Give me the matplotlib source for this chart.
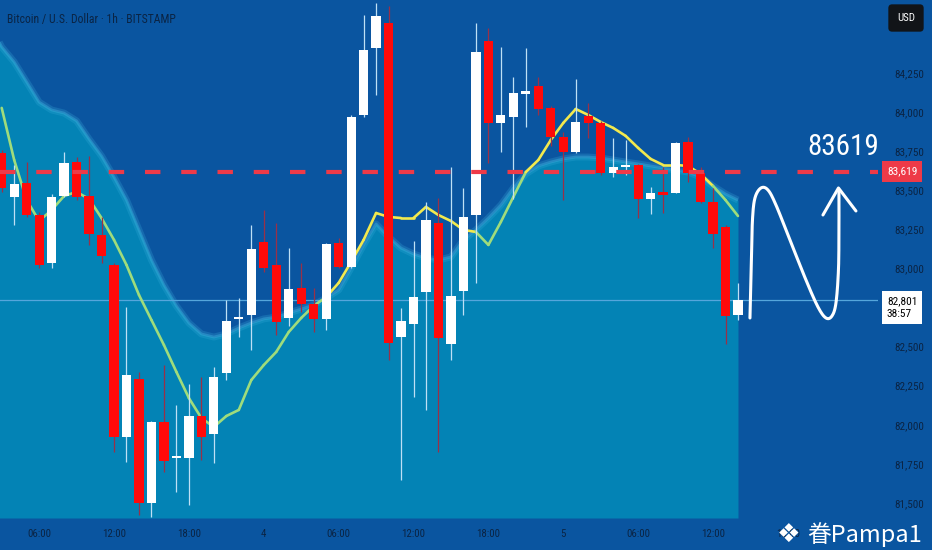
import matplotlib
matplotlib.use('Agg')
import numpy as np
import matplotlib.pyplot as plt
from matplotlib import font_manager
from matplotlib.collections import LineCollection

# hourly candles, hour 0 = day 3 00:00
hours = np.arange(3, 63)
opens = [83736, 83455, 83544, 83341, 83036, 83463, 83682, 83465, 83214, 83022,
         81920, 82291, 81498, 82016, 81790, 81790, 82056, 81941, 82333, 82676,
         82702, 83171, 83022, 82685, 82873, 82772, 82675, 83160, 83011, 83978,
         84407, 84571, 82563, 82645, 82851, 83292, 82515, 82856, 83341, 84456,
         83932, 83965, 84113, 84166, 84023, 83842, 83746, 83975, 83932, 83608,
         83646, 83661, 83442, 83490, 83484, 83810, 83608, 83427, 83262, 82702]
highs = [83760, 83661, 83682, 83360, 83476, 83746, 83714, 83719, 83330, 83033,
         82755, 82340, 82025, 82382, 82127, 82261, 82308, 82372, 82798, 82811,
         83278, 83373, 83288, 83128, 83033, 82873, 83160, 83192, 83980, 84620,
         84695, 84676, 82745, 83177, 83427, 83448, 83650, 83512, 84571, 84535,
         84418, 84221, 84407, 84226, 84040, 83870, 84209, 84055, 83940, 83831,
         83820, 83670, 83522, 83650, 83805, 83842, 83650, 83512, 83278, 82905]
lows = [83490, 83278, 83330, 83003, 83005, 83455, 83437, 83150, 83033, 81828,
        81764, 81423, 81412, 81700, 81572, 81487, 81775, 81758, 82286, 82561,
        82478, 82980, 82574, 82633, 82723, 82596, 82606, 83000, 83000, 83965,
        84109, 82414, 81647, 82176, 82095, 81828, 82414, 82702, 82905, 83672,
        83746, 83442, 83903, 83981, 83781, 83437, 83740, 83831, 83597, 83586,
        83597, 83320, 83348, 83352, 83480, 83554, 83415, 83128, 82517, 82670]
closes = [83512, 83540, 83341, 83022, 83459, 83676, 83459, 83218, 83081, 81920,
          82318, 81498, 82020, 81770, 81796, 82056, 81920, 82304, 82666, 82686,
          83122, 83001, 82659, 82866, 82772, 82675, 83156, 83011, 83970, 84397,
          84614, 82525, 82666, 82819, 83310, 82553, 82824, 83327, 84382, 83932,
          83981, 84124, 84136, 84017, 83838, 83746, 83938, 83932, 83612, 83646,
          83659, 83442, 83484, 83469, 83799, 83608, 83423, 83220, 82696, 82801]

# upper edge of the shaded area and the moving average line
band = [84416, 84320, 84192, 84063, 84013, 83993, 83943, 83827, 83719, 83584,
        83437, 83246, 83054, 82894, 82760, 82651, 82581, 82561, 82581, 82619,
        82651, 82677, 82689, 82715, 82740, 82766, 82811, 82862, 83003, 83150,
        83284, 83201, 83130, 83092, 83066, 83054, 83073, 83182, 83246, 83322,
        83405, 83514, 83604, 83655, 83680, 83700, 83712, 83712, 83706, 83693,
        83680, 83668, 83655, 83642, 83629, 83616, 83584, 83527, 83476, 83437]
ma = [84026, 83693, 83437, 83303, 83373, 83463, 83489, 83444, 83322, 83182,
      83022, 82830, 82670, 82510, 82338, 82171, 82043, 81986, 82056, 82095,
      82286, 82382, 82466, 82593, 82683, 82760, 82817, 82907, 83041, 83182,
      83354, 83329, 83322, 83322, 83393, 83341, 83303, 83246, 83233, 83150,
      83297, 83457, 83616, 83693, 83821, 83930, 84019, 83981, 83936, 83898,
      83847, 83770, 83700, 83661, 83661, 83655, 83604, 83527, 83437, 83335]

target = 83619
last_price = 82801
countdown = "38:57"
yticks = [81500, 81750, 82000, 82250, 82500, 83000, 83250, 83500, 83750, 84000, 84250]
xticks = [6, 12, 18, 24, 30, 36, 42, 48, 54, 60, 66]
xlabels = ["06:00", "12:00", "18:00", "4", "06:00", "12:00", "18:00", "5", "06:00", "12:00", "18:00"]
title = "Bitcoin / U.S. Dollar · 1h · BITSTAMP"

names = {f.name for f in font_manager.fontManager.ttflist}
NARROW = dict(family='DejaVu Sans', stretch='condensed')
for cand in ['Liberation Sans Narrow', 'Roboto Condensed', 'Open Sans Condensed', 'Noto Sans Condensed']:
    if cand in names:
        NARROW = dict(family=cand)
        break

BG = '#0a55a0'
FILL = '#0383b5'
EDGE = '#3aaedc'
TXT = '#0a2444'
RED = '#ff0a0a'

fig = plt.figure(figsize=(9.32, 5.5), dpi=100, facecolor=BG)
ax = fig.add_axes([0, 32 / 550, 878 / 932, 518 / 550])
ax.set_facecolor(BG)
ymin, ymax = 81404, 84716
ax.set_xlim(2.864, 73.22)
ax.set_ylim(ymin, ymax)
for s in ax.spines.values():
    s.set_visible(False)


def px2h(px):
    return 3 + (px - 1.7) / 12.48


def py2p(py):
    return 81500 + (503 - py) * 6.394


# shaded area
fx = np.concatenate([[2.8], hours])
fy = np.concatenate([[band[0] + 30], band])
ax.fill_between(fx, fy, ymin, color=FILL, zorder=1, lw=0)
ax.plot(fx, fy, color=EDGE, lw=5, alpha=0.25, zorder=1.2, solid_capstyle='butt')
ax.plot(fx, fy, color=EDGE, lw=2, alpha=0.45, zorder=1.3, solid_capstyle='butt')

# moving average, yellow above the band, green inside it
ma_a = np.array(ma, float)
band_a = np.array(band, float)
segs, cols = [], []
for i in range(len(hours) - 1):
    segs.append([(hours[i], ma_a[i]), (hours[i + 1], ma_a[i + 1])])
    above = (ma_a[i] + ma_a[i + 1]) / 2 > (band_a[i] + band_a[i + 1]) / 2
    cols.append('#f2e94e' if above else '#9fdc7c')
ax.add_collection(LineCollection(segs, colors=cols, linewidths=1.9, zorder=2.5, capstyle='round'))

# current price line
ax.axhline(last_price, color='#55a6dc', lw=0.9, zorder=1.5)

# candles
o = np.array(opens); c = np.array(closes)
up = c >= o
body_lo = np.minimum(o, c)
body_h = np.maximum(np.abs(c - o), 12)
ax.vlines(hours[up], np.array(lows)[up], np.array(highs)[up], color='#bfe0f5', lw=0.9, zorder=3)
ax.vlines(hours[~up], np.array(lows)[~up], np.array(highs)[~up], color='#9a3048', lw=0.9, zorder=3)
ax.bar(hours[up], body_h[up], bottom=body_lo[up], width=0.74, color='white', lw=0, zorder=4)
ax.bar(hours[~up], body_h[~up], bottom=body_lo[~up], width=0.74, color=RED, lw=0, zorder=4)

# target dashed line
ax.axhline(target, color='#ee3a48', lw=3, dashes=(3.7, 5.0), zorder=5)

# axes ticks
ax.yaxis.tick_right()
ax.set_yticks(yticks)
ax.set_yticklabels([f"{v:,}" for v in yticks], color=TXT, fontsize=8, **NARROW)
ax.tick_params(axis='y', length=0, pad=12)
ax.set_xticks(xticks)
ax.set_xticklabels(xlabels, color=TXT, fontsize=7.8, **NARROW)
ax.tick_params(axis='x', length=0, pad=8)

# price labels on the axis
ax.text(px2h(887), target, f"{target:,}", color='white', fontsize=8.2,
        ha='left', va='center', clip_on=False, zorder=10, **NARROW,
        bbox=dict(boxstyle='square,pad=0.45', fc='#ee3a48', ec='none'))
ax.text(px2h(887), py2p(307.5), f"{last_price:,}\n{countdown}", color='black', fontsize=8.2,
        ha='left', va='center', clip_on=False, zorder=10, linespacing=1.3, **NARROW,
        bbox=dict(boxstyle='square,pad=0.45', fc='white', ec='none'))

# title and USD box
fig.text(7 / 932, 1 - 19 / 550, title, color=TXT, fontsize=8.5, ha='left', va='center', **NARROW)
fig.text(906 / 932, 1 - 18 / 550, "USD", color='white', fontsize=7.8, ha='center', va='center', **NARROW,
         bbox=dict(boxstyle='round,pad=0.8,rounding_size=0.35', fc='#111418', ec='none'))

# big target number
ax.text(px2h(843), py2p(147), str(target), color='white', fontsize=21, ha='center', va='center',
        zorder=11, **NARROW)

# hand drawn wave with arrow
wave_px = [(750, 318), (751.5, 260), (752.5, 220), (755, 198), (761, 188), (768, 190), (776, 205),
           (790, 240), (806, 280), (818, 307), (826, 318), (832, 316), (836, 303), (838.5, 270),
           (839, 230), (839, 190)]
pts = np.array([(px2h(a), py2p(b)) for a, b in wave_px])
# catmull-rom smoothing of the stroke
P = np.vstack([pts[0], pts, pts[-1]])
sm = []
for i in range(1, len(P) - 2):
    p0, p1, p2, p3 = P[i - 1], P[i], P[i + 1], P[i + 2]
    for t in np.linspace(0, 1, 12, endpoint=False):
        t2, t3 = t * t, t * t * t
        sm.append(0.5 * ((2 * p1) + (-p0 + p2) * t + (2 * p0 - 5 * p1 + 4 * p2 - p3) * t2
                         + (-p0 + 3 * p1 - 3 * p2 + p3) * t3))
sm.append(pts[-1])
sm = np.array(sm)
ax.plot(sm[:, 0], sm[:, 1], color='white', lw=2.2, zorder=9, solid_capstyle='round', clip_on=False)
head = [(823, 215), (838.5, 188), (856, 211)]
ax.plot([px2h(a) for a, b in head], [py2p(b) for a, b in head], color='white', lw=2.2,
        zorder=9, solid_capstyle='round', solid_joinstyle='round')

# watermark
fig.text(777 / 932, 1 - 535 / 550, "❖", color='white', fontsize=19, ha='left', va='center',
         family='DejaVu Sans')
fig.text(807 / 932, 1 - 535 / 550, "眷Pampa1", color='white', fontsize=17, ha='left', va='center',
         family=['Noto Sans CJK SC', 'DejaVu Sans'])

fig.savefig('out.png', dpi=100, facecolor=BG)
